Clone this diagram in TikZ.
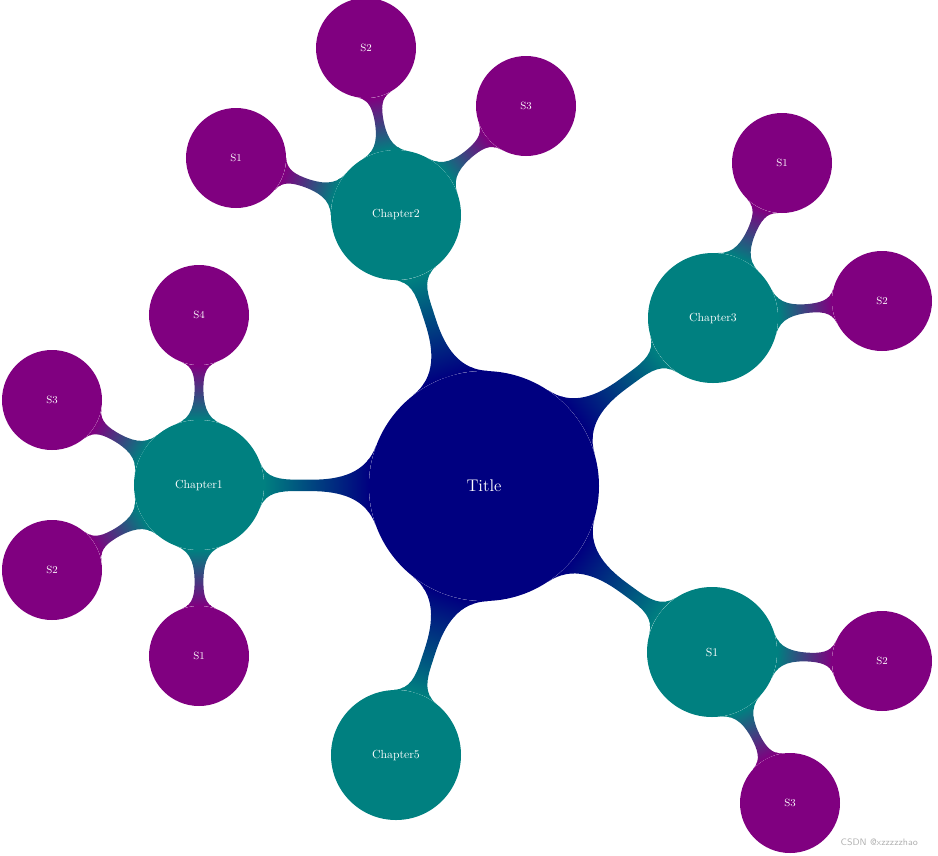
\documentclass[tikz,border=0pt]{standalone}
\usetikzlibrary{mindmap,backgrounds}
\definecolor{leafcol}{RGB}{128,0,128}
\definecolor{rootcol}{RGB}{0,0,128}
\begin{document}
\begin{tikzpicture}[x=0.03cm,y=-0.03cm,
  rootc/.style={circle,fill=rootcol,text=white,minimum size=6.9cm,font=\Large,inner sep=0pt},
  chapc/.style={circle,fill=teal,text=white,minimum size=3.9cm,font=\normalsize,inner sep=0pt},
  leafc/.style={circle,fill=leafcol,text=white,minimum size=3cm,font=\small,inner sep=0pt},
  rc/.style={circle connection bar switch color=from (rootcol) to (teal)},
  lc/.style={circle connection bar switch color=from (teal) to (leafcol)}]
\useasboundingbox (0,0) rectangle (938,856);
\node[rootc] (t) at (484,486) {Title};
\node[chapc] (c1) at (199,485) {Chapter1};
\node[chapc] (c2) at (396,215) {Chapter2};
\node[chapc] (c3) at (713,318) {Chapter3};
\node[chapc] (c4) at (712,652) {S1};
\node[chapc] (c5) at (396,755) {Chapter5};
\node[leafc] (a4) at (199,315) {S4};
\node[leafc] (a3) at (52,400) {S3};
\node[leafc] (a2) at (52,570) {S2};
\node[leafc] (a1) at (199,656) {S1};
\node[leafc] (b1) at (236,158) {S1};
\node[leafc] (b2) at (366,48) {S2};
\node[leafc] (b3) at (526,106) {S3};
\node[leafc] (d1) at (782,163) {S1};
\node[leafc] (d2) at (882,301) {S2};
\node[leafc] (e2) at (882,661) {S2};
\node[leafc] (e3) at (790,803) {S3};
\node[text=gray!60,font=\sffamily\footnotesize,anchor=east] (wm) at (922,842) {CSDN @xzzzzzhao};
\begin{pgfonlayer}{background}
\foreach \c in {c1,c2,c3,c4,c5} \path (t) to[rc] (\c);
\foreach \a/\b in {c1/a1,c1/a2,c1/a3,c1/a4,c2/b1,c2/b2,c2/b3,c3/d1,c3/d2,c4/e2,c4/e3}
  \path (\a) to[lc] (\b);
\end{pgfonlayer}
\end{tikzpicture}
\end{document}
